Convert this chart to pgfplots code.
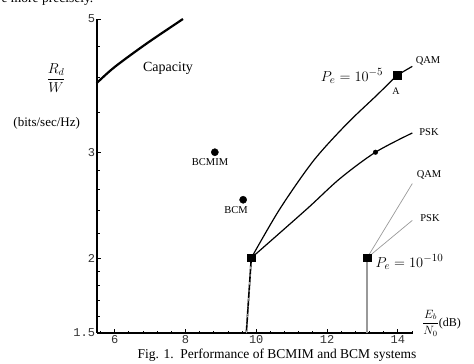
\documentclass[border=0pt]{standalone}
\usepackage{fontspec}
\setmainfont{Liberation Serif}
\setmonofont{Liberation Mono}
\usepackage{pgfplots}
\pgfplotsset{compat=1.18}
\begin{document}
\begin{tikzpicture}
\useasboundingbox (0pt,0pt) rectangle (474pt,364pt);
\begin{axis}[
  at={(97pt,31pt)}, anchor=south west,
  scale only axis, width=316pt, height=314pt,
  xmin=5.5, xmax=14.43, ymin=1.5, ymax=5, ymode=log,
  axis lines=left, axis line style={-, line width=1.1pt},
  clip=false,
  xtick={6,8,10,12,14}, xticklabels={\texttt{6},\texttt{8},\texttt{10},\texttt{12},\texttt{14}},
  minor xtick={5.6,6.4,6.8,7.2,7.6,8.4,8.8,9.2,9.6,10.4,10.8,11.2,11.6,12.4,12.8,13.2,13.6,14.4},
  ytick={1.5,2,3,5}, yticklabels={\texttt{1.5},\texttt{2},\texttt{3},\texttt{5}},
  minor ytick={1.6,1.7,1.8,1.9,2.2,2.4,2.6,2.8,3.5,4,4.5},
  tick align=inside,
  major tick length=4pt, minor tick length=2.5pt,
  every tick/.style={black, line width=0.8pt},
  ticklabel style={font=\fontsize{12}{12}\selectfont, text=black!80},
  xticklabel style={yshift=1pt},
  yticklabel style={xshift=1.5pt},
]
% Capacity
\addplot[line width=2.2pt, smooth] coordinates {(5.49,3.91)(6.0,4.16)(6.9,4.55)(7.93,5.0)};
% QAM Pe=1e-5
\addplot[line width=1.2pt, smooth] coordinates {(9.86,2)(10.66,2.41)(11.61,2.90)(12.55,3.34)(13.40,3.73)(13.98,4.03)};
\addplot[line width=1.2pt] coordinates {(13.98,4.03)(14.41,4.17)};
% PSK Pe=1e-5
\addplot[line width=1.2pt, smooth] coordinates {(9.86,2)(11.42,2.41)(12.36,2.71)(13.37,3.0)(14.41,3.23)};
% lower thick line
\addplot[line width=1.6pt] coordinates {(9.72,1.5)(9.86,2)};
\addplot[white, line width=0.4pt, dash pattern=on 3pt off 5pt] coordinates {(9.72,1.5)(9.86,2)};
% Pe=1e-10 gray
\addplot[gray!80, line width=1.2pt] coordinates {(13.13,1.5)(13.13,2)};
\addplot[gray!80, line width=0.7pt] coordinates {(13.13,2)(14.41,2.66)};
\addplot[gray!80, line width=0.7pt] coordinates {(13.13,2)(14.41,2.31)};
% markers
\addplot[only marks, mark=square*, mark size=3.7pt, black] coordinates {(9.86,2)(13.98,4.03)(13.13,2)};
\addplot[only marks, mark=*, mark size=3.6pt, black] coordinates {(8.83,3.0)(9.63,2.5)};
\addplot[only marks, mark=*, mark size=2.3pt, black] coordinates {(13.37,3.0)};
\end{axis}
\node[anchor=base west, font=\fontsize{13.5}{13.5}\selectfont] at (-2pt,361pt) {e more precisely.};
\node[font=\fontsize{14}{14}\selectfont] at (168pt,296pt) {Capacity};
\node[font=\fontsize{14.5}{14.5}\selectfont] at (56pt,286pt) {$\displaystyle\frac{R_d}{W}$};
\node[font=\fontsize{13}{13}\selectfont] at (46.7pt,241pt) {(bits/sec/Hz)};
\node[font=\fontsize{15}{15}\selectfont] at (352pt,288pt) {$P_e = 10^{-5}$};
\node[anchor=west, font=\fontsize{15}{15}\selectfont] at (372pt,102pt) {$P_e = 10^{-10}$};
\node[font=\fontsize{10}{10}\selectfont] at (396pt,273pt) {A};
\node[font=\fontsize{10.5}{10.5}\selectfont] at (428pt,303pt) {QAM};
\node[font=\fontsize{10.5}{10.5}\selectfont] at (429pt,232pt) {PSK};
\node[font=\fontsize{10.5}{10.5}\selectfont] at (429pt,189pt) {QAM};
\node[font=\fontsize{10.5}{10.5}\selectfont] at (430pt,146pt) {PSK};
\node[font=\fontsize{10.5}{10.5}\selectfont] at (210pt,202pt) {BCMIM};
\node[font=\fontsize{10.5}{10.5}\selectfont] at (236pt,154pt) {BCM};
\node[anchor=west, font=\fontsize{12}{12}\selectfont, inner sep=0pt] at (422pt,41pt) {$\displaystyle\frac{E_b}{N_0}$(dB)};
\node[font=\fontsize{13.5}{13.5}\selectfont] at (277pt,9pt) {Fig. 1.\ \ Performance of BCMIM and BCM systems};
\end{tikzpicture}
\end{document}
